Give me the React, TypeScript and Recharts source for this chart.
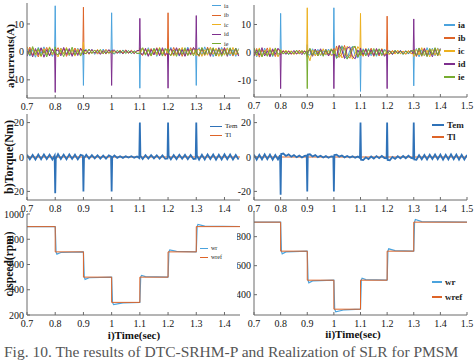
import { LineChart, Line, XAxis, YAxis, Legend } from 'recharts';

// sample times (s), 0.01 s step
const tGrid = [
  0.7, 0.71, 0.72, 0.73, 0.74, 0.75, 0.76, 0.77, 0.78, 0.79,
  0.8, 0.81, 0.82, 0.83, 0.84, 0.85, 0.86, 0.87, 0.88, 0.89,
  0.9, 0.91, 0.92, 0.93, 0.94, 0.95, 0.96, 0.97, 0.98, 0.99,
  1.0, 1.01, 1.02, 1.03, 1.04, 1.05, 1.06, 1.07, 1.08, 1.09,
  1.1, 1.11, 1.12, 1.13, 1.14, 1.15, 1.16, 1.17, 1.18, 1.19,
  1.2, 1.21, 1.22, 1.23, 1.24, 1.25, 1.26, 1.27, 1.28, 1.29,
  1.3, 1.31, 1.32, 1.33, 1.34, 1.35, 1.36, 1.37, 1.38, 1.39,
  1.4, 1.41, 1.42, 1.43, 1.44, 1.45, 1.46, 1.47, 1.48, 1.49,
  1.5,
];
// extra samples just before / after each switching instant
const shoulderT = [0.798, 0.802, 0.898, 0.902, 0.998, 1.002, 1.098, 1.102, 1.198, 1.202, 1.298, 1.302];

const xTicksLeft = [0.7, 0.8, 0.9, 1, 1.1, 1.2, 1.3, 1.4];
const xTicksRight = [0.7, 0.8, 0.9, 1, 1.1, 1.2, 1.3, 1.4, 1.5];
const currentTicks = [-10, 0, 10];
const torqueTicks = [-20, 0, 20];
const speedTicksLeft = [200, 400, 600, 800, 1000];
const speedTicksRight = [400, 600, 800];

// a) currents, left (0.70 - 1.45 s)
const iaL = [1.2, -1.5, 0.8, -1.9, 1.6, -0.7, 1.8, -1.3, 0.5, -1.6, 16.5, -1.1, 1.4, -0.6, 1.1, -1.4, 0.7, -1.0, 1.3, -0.8, -12, 0.9, -0.6, 0.8, -0.9, 0.5, -0.7, 1.0, -0.5, 0.6, 14, -0.8, 0.4, -0.6, 0.7, -0.3, 0.5, -0.7, 0.4, -0.5, -13, 1.1, -1.2, 1.5, -0.9, 1.3, -1.6, 0.8, -1.2, 1.4, -1.0, 1.6, -1.3, 0.9, -1.5, 1.2, -0.8, 1.7, -1.1, 1.3, -12, 1.5, -1.2, 1.8, -0.9, 1.4, -1.7, 1.1, -1.3, 1.6, -1.0, 1.5, -1.4, 0.9, -1.6, 1.2];
const ibL = [-0.9, 1.7, -1.2, 0.6, -1.8, 1.3, -0.5, 1.6, -1.4, 0.9, -1.2, 1.5, -0.8, 1.2, -1.6, 0.7, -1.1, 1.4, -0.9, 1.0, 16, -0.7, 0.9, -0.5, 0.6, -0.8, 0.4, -0.6, 0.9, -0.4, 0.5, 0.3, -0.5, 0.6, -0.4, 0.7, -0.3, 0.5, -0.6, 0.4, 0.8, -1.3, 1.0, -1.4, 1.2, -0.7, 1.5, -1.1, 0.9, -1.5, 14, -1.2, 1.6, -0.9, 1.3, -1.6, 1.0, -1.2, 1.5, -0.8, 1.2, -1.6, 0.9, -1.3, 1.7, -1.0, 1.4, -1.5, 0.8, -1.2, 1.6, -0.9, 1.3, -1.5, 1.0, -1.3];
const icL = [1.9, -0.6, 1.4, -1.2, 0.7, -1.7, 1.2, -0.9, 1.8, -1.1, 0.6, -1.8, 1.3, -0.7, 1.6, -1.2, 0.9, -1.5, 1.1, -1.3, 3.5, 0.6, -0.9, 0.7, -0.5, 0.9, -0.6, 0.5, -0.8, 0.7, -0.6, 0.4, -0.3, 0.5, -0.6, 0.3, -0.5, 0.6, -0.4, 0.3, 1.5, 1.4, -0.8, 1.1, -1.5, 0.9, -1.2, 1.6, -0.7, 1.2, -2.5, 0.8, -1.5, 1.3, -1.0, 1.6, -1.4, 0.9, -1.2, 1.5, -1.3, 1.1, -1.6, 0.8, -1.2, 1.7, -0.9, 1.3, -1.6, 1.0, -1.2, 1.4, -0.8, 1.6, -1.1, 0.9];
const idL = [-1.6, 0.9, -1.8, 1.2, -1.0, 1.5, -1.9, 0.8, -1.4, 1.1, -14.5, 0.7, -1.4, 1.6, -0.9, 1.2, -1.6, 0.6, -1.3, 1.4, -1.0, 0.5, -0.7, 0.9, -0.4, 0.6, -0.9, 0.4, -0.6, 0.8, -12, 0.6, -0.4, 0.3, -0.7, 0.5, -0.4, 0.3, -0.6, 0.5, 12, -0.9, 1.3, -1.6, 0.8, -1.1, 1.2, -1.4, 1.5, -0.9, -13, 1.1, -0.9, 1.5, -1.3, 0.8, -1.6, 1.2, -0.9, 1.6, 13, -1.1, 1.4, -0.8, 1.3, -1.6, 1.0, -1.2, 1.5, -0.7, 1.3, -1.6, 1.1, -0.9, 1.4, -1.5];
const ieL = [0.4, -1.2, 1.9, -0.8, 1.3, -1.5, 0.6, -1.8, 1.5, -0.5, 1.8, -1.0, 0.6, -1.7, 1.2, -0.9, 1.7, -1.1, 0.5, -1.5, 0.8, -0.5, 1.0, -0.6, 0.7, -0.4, 0.9, -0.7, 0.5, -0.6, 0.4, -0.5, 0.6, -0.3, 0.5, -0.6, 0.4, -0.5, 0.3, -0.6, -0.7, 1.5, -1.1, 0.8, -1.4, 1.2, -0.6, 1.3, -1.5, 0.9, 1.2, -1.4, 0.7, -1.6, 1.1, -0.9, 1.5, -1.3, 0.8, -1.4, 0.9, -1.3, 1.6, -1.0, 1.2, -0.8, 1.5, -1.4, 1.1, -1.6, 0.7, -1.2, 1.5, -1.0, 1.3, -0.8];
const iaLSh = [0.6, -0.5, -0.4, 0.5, 0.5, -0.4, -0.6, 0.4, 0.3, -0.5, -0.5, 0.6];
const ibLSh = [-0.4, 0.5, 0.6, -0.3, 0.3, -0.2, 0.4, -0.6, 0.5, -0.4, 0.3, -0.5];
const icLSh = [0.5, -0.6, 0.7, -0.4, -0.3, 0.2, 0.6, -0.5, -0.4, 0.6, -0.5, 0.4];
const idLSh = [-0.5, 0.4, -0.3, 0.5, -0.4, 0.6, 0.5, -0.4, -0.6, 0.3, 0.5, -0.6];
const ieLSh = [0.3, -0.6, 0.4, -0.5, 0.2, -0.3, -0.4, 0.6, 0.5, -0.4, 0.4, -0.3];

// a) currents, right (0.70 - 1.40 s)
const iaR = [1.3, -1.6, 0.7, -1.2, 1.5, -0.9, 1.1, -1.5, 0.8, -1.3, 14, -0.6, 0.5, -0.8, 0.4, -0.6, 0.7, -0.5, 0.6, -0.4, 2.8, -1.0, 1.3, -0.8, 1.1, -1.2, 0.7, -1.0, 1.2, -0.9, 16, -2.2, 1.0, 2.4, -1.5, -2.3, 0.8, 2.2, -1.2, -2.0, -14, 1.3, -0.9, 1.4, -1.2, 0.8, -1.4, 1.1, -0.7, 1.2, -0.8, 0.6, -0.5, 0.7, -0.4, 0.6, -0.7, 0.4, -0.6, 0.5, -12, 1.4, -1.6, 1.0, -1.3, 1.7, -0.9, 1.5, -1.2, 1.6, -1.0];
const ibR = [-1.1, 1.4, -1.7, 0.9, -0.6, 1.6, -1.3, 0.8, -1.5, 1.2, -0.9, 0.7, -0.4, 0.6, -0.7, 0.3, -0.5, 0.8, -0.3, 0.6, -1.5, 1.2, -0.7, 1.0, -1.3, 0.9, -1.1, 0.6, -1.2, 1.0, 1.4, 2.3, -1.8, -0.6, 2.5, -1.0, -2.1, 1.3, 2.0, -1.6, 0.9, -1.4, 1.1, -0.7, 1.5, -1.0, 0.8, -1.3, 1.2, -0.9, 13, -0.5, 0.7, -0.3, 0.6, -0.5, 0.4, -0.7, 0.5, -0.4, 1.1, -1.5, 0.8, -1.4, 1.6, -1.1, 1.3, -0.7, 1.5, -1.3, 0.9];
const icR = [0.6, -1.3, 1.6, -1.5, 0.9, -1.1, 1.7, -0.7, 1.2, -1.6, 1.0, -0.4, 0.8, -0.5, 0.6, -0.8, 0.3, -0.6, 0.7, -0.5, 16, -3.0, 0.9, -1.3, 0.6, -1.0, 1.3, -0.8, 0.7, -1.1, -1.2, 0.8, 2.4, -2.0, -0.9, 2.2, 1.1, -2.4, -0.5, 2.1, 14, -1.1, 1.5, -0.9, 0.7, -1.5, 1.2, -0.6, 1.4, -1.1, 0.6, -0.7, 0.4, -0.6, 0.8, -0.3, 0.5, -0.6, 0.7, -0.4, -1.5, 1.2, -0.9, 1.7, -1.1, 0.8, -1.6, 1.2, -1.0, 1.4, -1.3];
const idR = [-1.4, 0.8, -1.0, 1.7, -1.3, 0.6, -1.6, 1.3, -0.7, 1.5, -13, 0.5, -0.7, 0.4, -0.5, 0.7, -0.6, 0.3, -0.8, 0.5, -1.1, 0.7, -1.4, 1.2, -0.6, 1.3, -0.9, 1.1, -1.3, 0.8, -13, -1.4, 2.5, 0.7, -2.2, 1.6, 2.0, -1.5, -2.3, 0.9, 1.6, -0.8, 1.2, -1.5, 0.9, -1.2, 1.4, -0.8, 1.1, -1.4, -13, 0.4, -0.8, 0.5, -0.3, 0.7, -0.5, 0.6, -0.4, 0.8, 12, -1.2, 1.5, -0.8, 1.3, -1.4, 0.7, -1.6, 1.2, -0.9, 1.4];
const ieR = [1.7, -0.9, 1.2, -1.6, 0.5, -1.4, 0.9, -1.2, 1.6, -0.6, 0.8, -0.6, 0.5, -0.7, 0.3, -0.5, 0.8, -0.4, 0.6, -0.7, -13, 1.5, -1.0, 0.8, -1.2, 0.7, -1.4, 1.0, -0.6, 1.3, 0.7, -2.0, -1.2, 2.1, 1.4, -2.4, -0.8, 1.9, 2.2, -1.7, -1.2, 0.9, -1.3, 1.1, -0.6, 1.4, -1.0, 1.3, -1.2, 0.7, -0.6, 0.5, -0.4, 0.8, -0.6, 0.4, -0.7, 0.5, -0.3, 0.6, 0.8, -1.0, 1.6, -1.2, 0.6, -1.5, 1.4, -0.9, 1.7, -1.1, 1.2];
const iaRSh = [-0.5, 0.6, 0.4, -0.7, -0.6, 0.9, 0.8, -0.9, 0.3, -0.4, 0.5, -0.6];
const ibRSh = [0.4, -0.3, -0.6, 0.5, 0.7, -0.8, -0.5, 0.6, -0.4, 0.3, -0.5, 0.4];
const icRSh = [-0.3, 0.5, 0.5, -0.9, -0.8, 0.6, 0.9, -0.7, 0.4, -0.5, 0.3, -0.6];
const idRSh = [0.6, -0.4, -0.3, 0.4, 0.5, -0.6, -0.7, 0.8, -0.5, 0.6, -0.4, 0.5];
const ieRSh = [-0.4, 0.3, 0.6, -0.5, -0.5, 0.7, 0.6, -0.8, 0.3, -0.4, 0.6, -0.3];

// b) torque
const temL = [1.3, -1.4, 1.2, -1.5, 1.4, -1.3, 1.5, -1.2, 1.3, -1.4, -21, 1.6, -1.2, 1.4, -1.3, 1.5, -1.1, 1.3, -1.4, 1.2, -20, 1.3, -0.9, 1.1, -0.8, 1.0, -0.9, 0.8, -1.0, 0.9, -20, 0.9, -0.5, 0.4, -0.5, 0.4, -0.3, 0.5, -0.4, 0.3, 20, -1.2, 1.0, -0.9, 1.1, -0.8, 1.0, -1.0, 0.9, -1.1, 20, -1.4, 1.1, -1.2, 1.3, -1.0, 1.2, -1.3, 1.1, -1.2, 20, -1.5, 1.3, -1.4, 1.5, -1.2, 1.4, -1.5, 1.3, -1.4, 1.5, -1.3, 1.4, -1.5, 1.2, -1.4];
const temR = [1.4, -1.5, 1.3, -1.4, 1.5, -1.3, 1.4, -1.5, 1.2, -1.4, -22, 2.0, 0.6, 1.5, 0.2, 1.1, -0.1, 0.8, -0.3, 0.6, -20, 1.6, 0.3, 1.1, -0.1, 0.7, -0.3, 0.5, -0.4, 0.4, -20, 1.4, 0.2, 0.9, -0.2, 0.6, -0.3, 0.4, -0.4, 0.3, 20, -1.8, -0.2, -1.2, 0.3, -0.9, 0.5, -0.7, 0.6, -0.6, 20, -1.9, 0.0, -1.1, 0.4, -0.8, 0.6, -0.7, 0.7, -0.5, 20, -1.6, 1.0, -1.3, 1.2, -1.4, 1.3, -1.2, 1.4, -1.3, 1.4, -1.5, 1.3, -1.4, 1.5, -1.3, 1.4, -1.5, 1.3, -1.4, 1.2];
const temLSh = [0.9, -1.0, 0.8, -0.7, 0.3, -0.4, -0.6, 0.7, -0.9, 0.8, -1.0, 0.9];
const temRSh = [1.0, 1.8, 0.8, 1.4, 0.3, 1.2, -0.6, -1.6, -0.7, -1.7, -0.9, -1.4];
const tlT = [0.7, 1.5];
const tlV = [0, 0];

// c) speed
const wrefT = [0.7, 0.8, 0.8, 0.9, 0.9, 1.0, 1.0, 1.1, 1.1, 1.2, 1.2, 1.3, 1.3, 1.5];
const wrefV = [900, 900, 700, 700, 500, 500, 300, 300, 500, 500, 700, 700, 900, 900];
const wrT = [0.7, 0.8, 0.803, 0.806, 0.82, 0.9, 0.903, 0.906, 0.92, 1.0, 1.003, 1.007, 1.04, 1.1, 1.103, 1.106, 1.12, 1.2, 1.203, 1.206, 1.23, 1.3, 1.303, 1.306, 1.33, 1.5];
const wrV = [900, 900, 700, 682, 695, 700, 500, 482, 495, 500, 300, 282, 296, 300, 500, 514, 504, 500, 700, 716, 704, 700, 900, 918, 904, 900];

const BLUE = '#4ba3dd';
const ORANGE = '#de6428';
const YELLOW = '#edb120';
const PURPLE = '#7e2f8e';
const GREEN = '#77ac30';
const TEM = '#2f72b8';
const AXIS = '#6b6b6b';
const SERIF = '"Liberation Serif", "DejaVu Serif", serif';

// grid samples + shoulder samples, in time order
const merge = (n: number, series: Record<string, [number[], number[]]>) => {
  const pts = [
    ...tGrid.slice(0, n).map((t, i) => ({ t, i, grid: true })),
    ...shoulderT.map((t, i) => ({ t, i, grid: false })),
  ].sort((a, b) => a.t - b.t);
  return pts.map((p) => {
    const r: Record<string, number> = { t: p.t };
    for (const k in series) r[k] = p.grid ? series[k][0][p.i] : series[k][1][p.i];
    return r;
  });
};
const pairs = (ts: number[], vs: number[]) => ts.map((t, i) => ({ t, v: vs[i] }));

const curLeft = merge(76, { ia: [iaL, iaLSh], ib: [ibL, ibLSh], ic: [icL, icLSh], id: [idL, idLSh], ie: [ieL, ieLSh] });
const curRight = merge(71, { ia: [iaR, iaRSh], ib: [ibR, ibRSh], ic: [icR, icRSh], id: [idR, idRSh], ie: [ieR, ieRSh] });
const torLeft = merge(76, { Tem: [temL, temLSh] });
const torRight = merge(81, { Tem: [temR, temRSh] });

const fmt = (v: number) => String(Number(v.toFixed(2)));
const tickStyle = { fontSize: 10, fontFamily: SERIF, fill: '#151515' };

type LegendSpec = { left: number; top: number; rowH: number; lineW: number; thick: number; font: number; bold?: boolean };

function makeLegend(s: LegendSpec) {
  return (props: any) => {
    const items = [...(props.payload || [])].sort((a: any, b: any) => String(a.value).localeCompare(String(b.value)));
    return (
      <div>
        {items.map((p: any) => (
          <div key={p.value} style={{ display: 'flex', alignItems: 'center', height: s.rowH }}>
            <span style={{ display: 'inline-block', width: s.lineW, height: s.thick, background: p.color, marginRight: 3 }} />
            <span style={{ fontSize: s.font, fontFamily: SERIF, fontWeight: s.bold ? 'bold' : 'normal', color: '#222', lineHeight: 1 }}>{p.value}</span>
          </div>
        ))}
      </div>
    );
  };
}

type PanelProps = {
  left: number; top: number; width: number; height: number;
  mTop: number; mRight: number; yW: number;
  xDomain: [number, number]; xTicks: number[];
  yDomain: [number, number]; yTicks: number[];
  data?: any[]; legend: LegendSpec; children: any;
};

function Panel(p: PanelProps) {
  return (
    <div style={{ position: 'absolute', left: p.left, top: p.top }}>
      <LineChart width={p.width} height={p.height} data={p.data} margin={{ top: p.mTop, right: p.mRight, bottom: 0, left: 0 }}>
        <XAxis dataKey="t" type="number" domain={p.xDomain} ticks={p.xTicks} allowDataOverflow interval={0}
          tickFormatter={fmt} height={14} tickSize={-3} tickMargin={8} stroke={AXIS} tick={tickStyle} />
        <XAxis xAxisId="top" orientation="top" type="number" domain={p.xDomain} ticks={p.xTicks} allowDataOverflow
          height={0} tickSize={-3} tick={false} stroke={AXIS} />
        <YAxis type="number" domain={p.yDomain} ticks={p.yTicks} allowDataOverflow interval={0}
          width={p.yW} tickSize={-3} tickMargin={6} stroke={AXIS} tick={tickStyle} />
        <YAxis yAxisId="r" orientation="right" type="number" domain={p.yDomain} ticks={p.yTicks} allowDataOverflow
          width={0} tickSize={-3} tick={false} stroke={AXIS} />
        <Legend layout="vertical" align="center" verticalAlign="middle"
          wrapperStyle={{ left: p.legend.left, top: p.legend.top, width: 50 }} content={makeLegend(p.legend)} />
        {p.children}
      </LineChart>
    </div>
  );
}

const currentLines = (w: number) => [
  <Line key="ia" dataKey="ia" name="ia" stroke={BLUE} strokeWidth={w} dot={false} isAnimationActive={false} legendType="plainline" />,
  <Line key="ib" dataKey="ib" name="ib" stroke={ORANGE} strokeWidth={w} dot={false} isAnimationActive={false} legendType="plainline" />,
  <Line key="ic" dataKey="ic" name="ic" stroke={YELLOW} strokeWidth={w} dot={false} isAnimationActive={false} legendType="plainline" />,
  <Line key="id" dataKey="id" name="id" stroke={PURPLE} strokeWidth={w} dot={false} isAnimationActive={false} legendType="plainline" />,
  <Line key="ie" dataKey="ie" name="ie" stroke={GREEN} strokeWidth={w} dot={false} isAnimationActive={false} legendType="plainline" />,
];

const yTitle = (text: string, cx: number, cy: number, size: number) => (
  <div style={{ position: 'absolute', left: cx, top: cy, transform: 'translate(-50%, -50%) rotate(-90deg)', whiteSpace: 'nowrap', fontFamily: SERIF, fontWeight: 'bold', fontSize: size, color: '#111' }}>{text}</div>
);
const xTitle = (text: string, cx: number, cy: number) => (
  <div style={{ position: 'absolute', left: cx, top: cy, transform: 'translate(-50%, -50%)', whiteSpace: 'nowrap', fontFamily: SERIF, fontWeight: 'bold', fontSize: 11, color: '#111' }}>{text}</div>
);

export default function App() {
  return (
    <div style={{ position: 'absolute', left: 0, top: 0, width: 474, height: 360, overflow: 'hidden', background: '#fff' }}>
      {/* a) currents */}
      <Panel left={0} top={0} width={242} height={112} mTop={3} mRight={2} yW={27}
        xDomain={[0.7, 1.455]} xTicks={xTicksLeft} yDomain={[-16.5, 17.5]} yTicks={currentTicks} data={curLeft}
        legend={{ left: 212, top: 1, rowH: 9.5, lineW: 9, thick: 1, font: 6 }}>
        {currentLines(1)}
      </Panel>
      <Panel left={237} top={0} width={237} height={111} mTop={5} mRight={7} yW={17}
        xDomain={[0.7, 1.5]} xTicks={xTicksRight} yDomain={[-16, 17]} yTicks={currentTicks} data={curRight}
        legend={{ left: 207, top: 18.5, rowH: 13, lineW: 11, thick: 2, font: 9, bold: true }}>
        {currentLines(1)}
      </Panel>

      {/* b) torque */}
      <Panel left={0} top={100} width={242} height={114} mTop={14} mRight={2} yW={27}
        xDomain={[0.7, 1.455]} xTicks={xTicksLeft} yDomain={[-25, 25]} yTicks={torqueTicks} data={torLeft}
        legend={{ left: 210, top: 21.5, rowH: 9, lineW: 12, thick: 1, font: 7 }}>
        <Line data={pairs(tlT, tlV)} dataKey="v" name="Tl" stroke={ORANGE} strokeWidth={1} dot={false} isAnimationActive={false} legendType="plainline" />
        <Line dataKey="Tem" name="Tem" stroke={TEM} strokeWidth={1.8} dot={false} isAnimationActive={false} legendType="plainline" />
      </Panel>
      <Panel left={237} top={100} width={237} height={114} mTop={14} mRight={7} yW={17}
        xDomain={[0.7, 1.5]} xTicks={xTicksRight} yDomain={[-25, 25]} yTicks={torqueTicks} data={torRight}
        legend={{ left: 195, top: 19, rowH: 12, lineW: 12, thick: 2, font: 9, bold: true }}>
        <Line data={pairs(tlT, tlV)} dataKey="v" name="Tl" stroke={ORANGE} strokeWidth={1} dot={false} isAnimationActive={false} legendType="plainline" />
        <Line dataKey="Tem" name="Tem" stroke={TEM} strokeWidth={1.8} dot={false} isAnimationActive={false} legendType="plainline" />
      </Panel>

      {/* c) speed */}
      <Panel left={0} top={200} width={242} height={129} mTop={14} mRight={2} yW={27}
        xDomain={[0.7, 1.455]} xTicks={xTicksLeft} yDomain={[200, 1000]} yTicks={speedTicksLeft}
        legend={{ left: 200, top: 43.5, rowH: 9, lineW: 8, thick: 1, font: 6 }}>
        <Line data={pairs(wrT, wrV)} dataKey="v" name="wr" stroke={BLUE} strokeWidth={1.2} dot={false} isAnimationActive={false} legendType="plainline" />
        <Line data={pairs(wrefT, wrefV)} dataKey="v" name="wref" stroke={ORANGE} strokeWidth={1} dot={false} isAnimationActive={false} legendType="plainline" />
      </Panel>
      <Panel left={237} top={200} width={237} height={129} mTop={12} mRight={7} yW={17}
        xDomain={[0.7, 1.5]} xTicks={xTicksRight} yDomain={[260, 970]} yTicks={speedTicksRight}
        legend={{ left: 195, top: 74.5, rowH: 15, lineW: 10, thick: 2, font: 9, bold: true }}>
        <Line data={pairs(wrT, wrV)} dataKey="v" name="wr" stroke={BLUE} strokeWidth={1.2} dot={false} isAnimationActive={false} legendType="plainline" />
        <Line data={pairs(wrefT, wrefV)} dataKey="v" name="wref" stroke={ORANGE} strokeWidth={1} dot={false} isAnimationActive={false} legendType="plainline" />
      </Panel>

      {yTitle('a)currents(A)', 10, 56, 11)}
      {yTitle('b)Torque(Nm)', 9, 157, 12)}
      {yTitle('c)speed(rpm)', 9, 264, 11.5)}
      {xTitle('i)Time(sec)', 134, 335)}
      {xTitle('ii)Time(sec)', 353, 334)}

      <div style={{ position: 'absolute', left: 4, top: 343, whiteSpace: 'nowrap', fontFamily: SERIF, fontSize: 15.5, color: '#555' }}>
        Fig. 10. The results of DTC-SRHM-P and Realization of SLR for PMSM
      </div>
    </div>
  );
}
